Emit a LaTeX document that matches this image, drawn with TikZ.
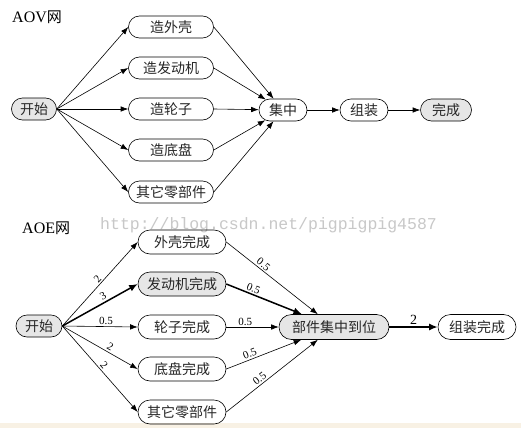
\documentclass[tikz,border=0pt]{standalone}
\usepackage{fontspec}
\setmainfont{Liberation Serif}
\newfontfamily\cjk{Noto Sans CJK SC}
\newfontfamily\wmfont{Liberation Mono}
\usetikzlibrary{shapes.misc,arrows.meta}
\definecolor{nodegray}{HTML}{E6E6E6}
\definecolor{bandcol}{HTML}{F8F1E4}
\definecolor{wmcol}{HTML}{C8C8C8}
\tikzset{
  box/.style={draw, line width=0.6pt, rounded rectangle, minimum height=22pt,
    font=\cjk\fontsize{14}{15}\selectfont, inner sep=1pt, text=black!85},
  gbox/.style={box, fill=nodegray},
  arr/.style={-{Latex[length=7.5pt,width=5.5pt]}, line width=0.6pt},
  tarr/.style={-{Latex[length=8.5pt,width=7pt]}, line width=1.5pt},
  lab/.style={font=\fontsize{11}{12}\selectfont, sloped, above, inner sep=1.5pt},
  ttl/.style={anchor=west, font=\fontsize{16}{17}\selectfont, inner sep=0pt},
}
\begin{document}
\begin{tikzpicture}[x=1pt,y=-1pt]
\useasboundingbox (0,0) rectangle (521,428);
\fill[white] (0,0) rectangle (521,428);
\fill[bandcol] (0,423) rectangle (521,428);
% watermark
\node[anchor=west, font=\wmfont\fontsize{16.5}{17}\selectfont, text=wmcol, inner sep=0pt] (wm) at (100,225) {http://blog.csdn.net/pigpigpig4587};
% ---- AOV ----
\node[ttl] (t1) at (12,17) {AOV{\cjk\fontsize{15}{16}\selectfont 网}};
\node[gbox, minimum width=47pt] (s1) at (34,109) {开始};
\node[box, minimum width=87pt] (a1) at (171,27) {造外壳};
\node[box, minimum width=87pt] (a2) at (171,68) {造发动机};
\node[box, minimum width=87pt] (a3) at (171,109) {造轮子};
\node[box, minimum width=87pt] (a4) at (171,150) {造底盘};
\node[box, minimum width=87pt] (a5) at (171,192) {其它零部件};
\node[box, minimum width=50pt] (jz) at (283,110) {集中};
\node[box, minimum width=50pt] (zz) at (364,110) {组装};
\node[gbox, minimum width=53pt] (wc) at (446,110) {完成};
\foreach \n in {a1,a2,a3,a4,a5}{
  \draw[arr] (s1.east) -- (\n.west);
  \draw[arr] (\n.east) -- (jz);
}
\draw[arr] (jz.east) -- (zz.west);
\draw[arr] (zz.east) -- (wc.west);
% ---- AOE ----
\node[ttl] (t2) at (22,228) {AOE{\cjk\fontsize{15}{16}\selectfont 网}};
\node[gbox, minimum width=48pt] (s2) at (39,326) {开始};
\node[box, minimum width=90pt, minimum height=24pt] (b1) at (182,242) {外壳完成};
\node[gbox, minimum width=90pt, minimum height=24pt] (b2) at (182,284) {发动机完成};
\node[box, minimum width=90pt, minimum height=24pt] (b3) at (182,327) {轮子完成};
\node[box, minimum width=90pt, minimum height=24pt] (b4) at (182,369) {底盘完成};
\node[box, minimum width=90pt, minimum height=24pt] (b5) at (182,412) {其它零部件};
\node[gbox, minimum width=112pt, minimum height=25pt] (jd) at (334,327) {部件集中到位};
\node[box, minimum width=80pt, minimum height=25pt] (zw) at (477,327) {组装完成};
\draw[arr] (s2.east) -- node[lab, pos=0.52] {2} (b1.west);
\draw[tarr] (s2.east) -- node[lab, pos=0.58] {3} (b2.west);
\draw[arr] (s2.east) -- node[lab, pos=0.58] {0.5} (b3.west);
\draw[arr] (s2.east) -- node[lab, pos=0.6] {2} (b4.west);
\draw[arr] (s2.east) -- node[lab, pos=0.5] {2} (b5.west);
\draw[arr] (b1.east) -- node[lab, pos=0.37] {0.5} (jd);
\draw[tarr] (b2.east) -- node[lab, pos=0.33] {0.5} (jd);
\draw[arr] (b3.east) -- node[lab, pos=0.36] {0.5} (jd);
\draw[arr] (b4.east) -- node[lab, pos=0.34] {0.5} (jd);
\draw[arr] (b5.east) -- node[lab, pos=0.4] {0.5} (jd);
\draw[tarr] (jd.east) -- node[above, font=\fontsize{14}{15}\selectfont, inner sep=2pt] {2} (zw.west);
\end{tikzpicture}
\end{document}
